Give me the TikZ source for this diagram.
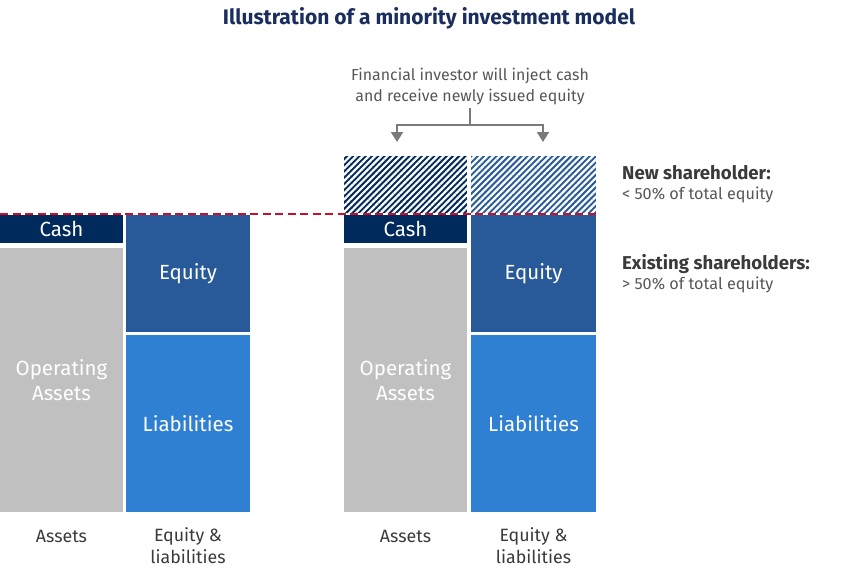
\documentclass[tikz,border=0pt]{standalone}
\usepackage{fontspec}
\setmainfont{Fira Sans}
\usetikzlibrary{arrows.meta,patterns.meta}
\definecolor{navy}{HTML}{002A5C}
\definecolor{eqblue}{HTML}{285A99}
\definecolor{liblue}{HTML}{2F7FD2}
\definecolor{opgrey}{HTML}{C0C0C0}
\definecolor{ttl}{HTML}{1A2E5E}
\definecolor{crim}{HTML}{C8102E}
\definecolor{arrgrey}{HTML}{7A7A7A}
\definecolor{txtgrey}{HTML}{3A3A3A}
\tikzset{
  box/.style={inner sep=0pt, outer sep=0pt, text=white, align=center,
    font=\fontsize{20.5}{25}\selectfont},
  lab/.style={text=txtgrey, align=center, font=\fontsize{17.8}{22}\selectfont},
  hatchbox/.style={inner sep=0pt, outer sep=0pt, minimum width=123pt, minimum height=57pt,
    preaction={fill=#1}, pattern={Lines[angle=45,distance=4.4pt,line width=2.2pt]}, pattern color=white},
  sidehead/.style={anchor=west, inner sep=0pt, text=txtgrey, font=\bfseries\fontsize{18.6}{20}\selectfont},
  sidenote/.style={anchor=west, inner sep=0pt, text=txtgrey!85, font=\fontsize{16.2}{18}\selectfont},
  conn/.style={draw=arrgrey, line width=2pt},
}
\begin{document}
\begin{tikzpicture}[x=1pt,y=-1pt]
\useasboundingbox (0,0) rectangle (858,581);
% title
\node[text=ttl, font=\fontsize{21}{24}\selectfont\bfseries] (title) at (429,18) {Illustration of a minority investment model};
% left group
\node[box, fill=navy, minimum width=123pt, minimum height=28pt] (cashL) at (61.5,229) {Cash};
\node[box, fill=opgrey, minimum width=123pt, minimum height=264pt] (opL) at (61.5,380) {Operating\\Assets};
\node[box, fill=eqblue, minimum width=124pt, minimum height=117pt] (eqL) at (188,273.5) {Equity};
\node[box, fill=liblue, minimum width=124pt, minimum height=177pt] (liL) at (188,423.5) {Liabilities};
\node[lab] (assL) at (61.5,536) {Assets};
\node[lab, anchor=north] (elL) at (188,524) {Equity \&\\liabilities};
% right group
\node[box, fill=navy, minimum width=123pt, minimum height=28pt] (cashR) at (405.5,229) {Cash};
\node[box, fill=opgrey, minimum width=123pt, minimum height=264pt] (opR) at (405.5,380) {Operating\\Assets};
\node[box, fill=eqblue, minimum width=125pt, minimum height=117pt] (eqR) at (533.5,273.5) {Equity};
\node[box, fill=liblue, minimum width=125pt, minimum height=177pt] (liR) at (533.5,423.5) {Liabilities};
\node[lab] (assR) at (405.5,536) {Assets};
\node[lab, anchor=north] (elR) at (533.5,524) {Equity \&\\liabilities};
% hatched new equity
\node[hatchbox=navy] (newC) at (405.5,184.5) {};
\node[hatchbox=eqblue, minimum width=125pt] (newE) at (533.5,184.5) {};
% dashed line
\coordinate (dashS) at (0,214);
\coordinate (dashE) at (596,214);
\draw[crim, line width=2pt, dash pattern=on 8pt off 4.5pt] (dashS) -- (dashE);
% investor text and arrows
\node[text=txtgrey!85, align=center, font=\fontsize{15.9}{21}\selectfont] (inv) at (470,86) {Financial investor will inject cash\\and receive newly issued equity};
\coordinate (junc) at (470,125);
\coordinate (lft) at (397,125);
\coordinate (rgt) at (543,125);
\coordinate (lftE) at (397,142);
\coordinate (rgtE) at (543,142);
\draw[conn] (inv.south) -- (junc);
\draw[conn, -{Triangle[length=10pt,width=12pt]}] (junc) -- (lft) -- (lftE);
\draw[conn, -{Triangle[length=10pt,width=12pt]}] (junc) -- (rgt) -- (rgtE);
% side notes
\node[sidehead] (nsh) at (622,173) {New shareholder:};
\node[sidenote] (nshn) at (622,195) {< 50\% of total equity};
\node[sidehead] (esh) at (622,264) {Existing shareholders:};
\node[sidenote] (eshn) at (622,285) {> 50\% of total equity};
\end{tikzpicture}
\end{document}
